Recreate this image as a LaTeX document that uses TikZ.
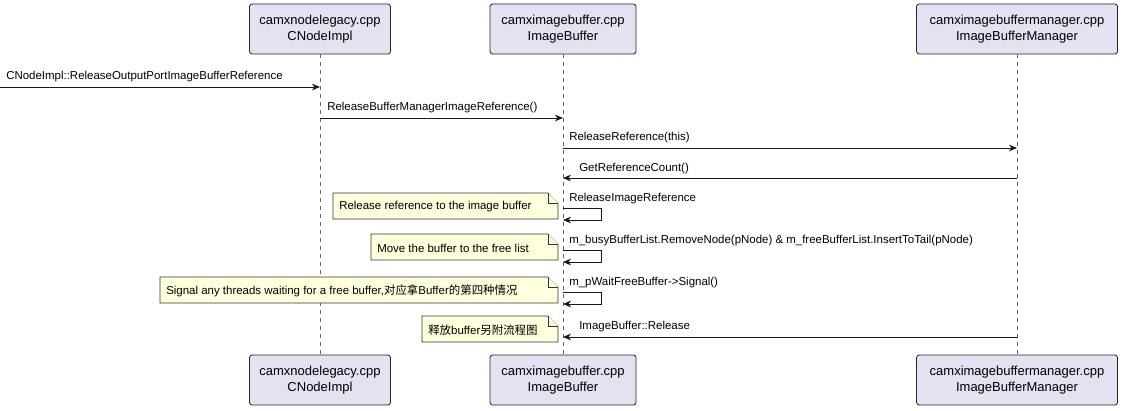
\documentclass[tikz,border=0pt]{standalone}
\usepackage{fontspec}
\setmainfont{Liberation Sans}
\newfontfamily\cjk{Noto Sans CJK SC}
\usetikzlibrary{arrows.meta}
\begin{document}
\begin{tikzpicture}[x=0.75pt,y=-0.75pt,
  part/.style={draw=black!85,fill=partfill,line width=0.6pt,rounded corners=2pt,minimum height=37.5pt,align=center,font=\fontsize{9.75}{12}\selectfont,inner sep=0pt},
  life/.style={dashed,draw=black!60,line width=0.5pt},
  msg/.style={-{Stealth[length=6pt,width=5pt]},line width=0.6pt,draw=black!90},
  lbl/.style={anchor=west,font=\fontsize{8.6}{10}\selectfont,inner sep=0pt},
  notebox/.style={draw=black!80,fill=notefill,line width=0.5pt},
  ntxt/.style={anchor=west,font=\fontsize{8.6}{10}\selectfont,inner sep=0pt}]
\definecolor{partfill}{HTML}{E2E2F0}
\definecolor{notefill}{HTML}{FEFFDD}
\useasboundingbox (0,0) rectangle (1123,410);
% participants
\node[part,minimum width=105.75pt] (a1) at (320,29) {camxnodelegacy.cpp\\CNodeImpl};
\node[part,minimum width=109.5pt] (b1) at (563,29) {camximagebuffer.cpp\\ImageBuffer};
\node[part,minimum width=150.75pt] (c1) at (1017,29) {camximagebuffermanager.cpp\\ImageBufferManager};
\node[part,minimum width=105.75pt] (a2) at (320,380) {camxnodelegacy.cpp\\CNodeImpl};
\node[part,minimum width=109.5pt] (b2) at (563,380) {camximagebuffer.cpp\\ImageBuffer};
\node[part,minimum width=150.75pt] (c2) at (1017,380) {camximagebuffermanager.cpp\\ImageBufferManager};
\draw[life] (a1) -- (a2);
\draw[life] (b1) -- (b2);
\draw[life] (c1) -- (c2);
% message endpoints
\coordinate (s0) at (0,87); \coordinate (a87) at (320,87);
\coordinate (a118) at (320,118); \coordinate (b118) at (563,118);
\coordinate (b148) at (563,148); \coordinate (c148) at (1017,148);
\coordinate (c178) at (1017,178); \coordinate (b178) at (563,178);
\coordinate (c337) at (1017,337); \coordinate (b337) at (563,337);
\coordinate (b208) at (563,208); \coordinate (b220) at (563,220);
\coordinate (b250) at (563,250); \coordinate (b262) at (563,262);
\coordinate (b292) at (563,292); \coordinate (b304) at (563,304);
\draw[msg] (s0) -- (a87);
\node[lbl] (l1) at (6,77) {CNodeImpl::ReleaseOutputPortImageBufferReference};
\draw[msg] (a118) -- (b118);
\node[lbl] (l2) at (327,108) {ReleaseBufferManagerImageReference()};
\draw[msg] (b148) -- (c148);
\node[lbl] (l3) at (569,138) {ReleaseReference(this)};
\draw[msg] (c178) -- (b178);
\node[lbl] (l4) at (579,169) {GetReferenceCount()};
\draw[msg] (b208) -- ++(38,0) |- (b220);
\node[lbl] (l5) at (569,199) {ReleaseImageReference};
\draw[msg] (b250) -- ++(38,0) |- (b262);
\node[lbl] (l6) at (569,241) {m\_busyBufferList.RemoveNode(pNode) \& m\_freeBufferList.InsertToTail(pNode)};
\draw[msg] (b292) -- ++(38,0) |- (b304);
\node[lbl] (l7) at (569,283) {m\_pWaitFreeBuffer->Signal()};
\draw[msg] (c337) -- (b337);
\node[lbl] (l8) at (579,327) {ImageBuffer::Release};
% notes
\foreach \xl/\yt/\yb in {333/193/219, 371/234/260, 160/277/303, 422/316/342}{
  \draw[notebox] (\xl,\yt) -- (548,\yt) -- (558,\yt+10) -- (558,\yb) -- (\xl,\yb) -- cycle;
  \draw[notebox] (548,\yt) -- (548,\yt+10) -- (558,\yt+10);
}
\node[ntxt] (n1) at (339,207) {Release reference to the image buffer};
\node[ntxt] (n2) at (377,248) {Move the buffer to the free list};
\node[ntxt] (n3) at (166,291) {Signal any threads waiting for a free buffer,{\cjk 对应拿}Buffer{\cjk 的第四种情况}};
\node[ntxt] (n4) at (428,330) {{\cjk 释放}buffer{\cjk 另附流程图}};
\end{tikzpicture}
\end{document}
